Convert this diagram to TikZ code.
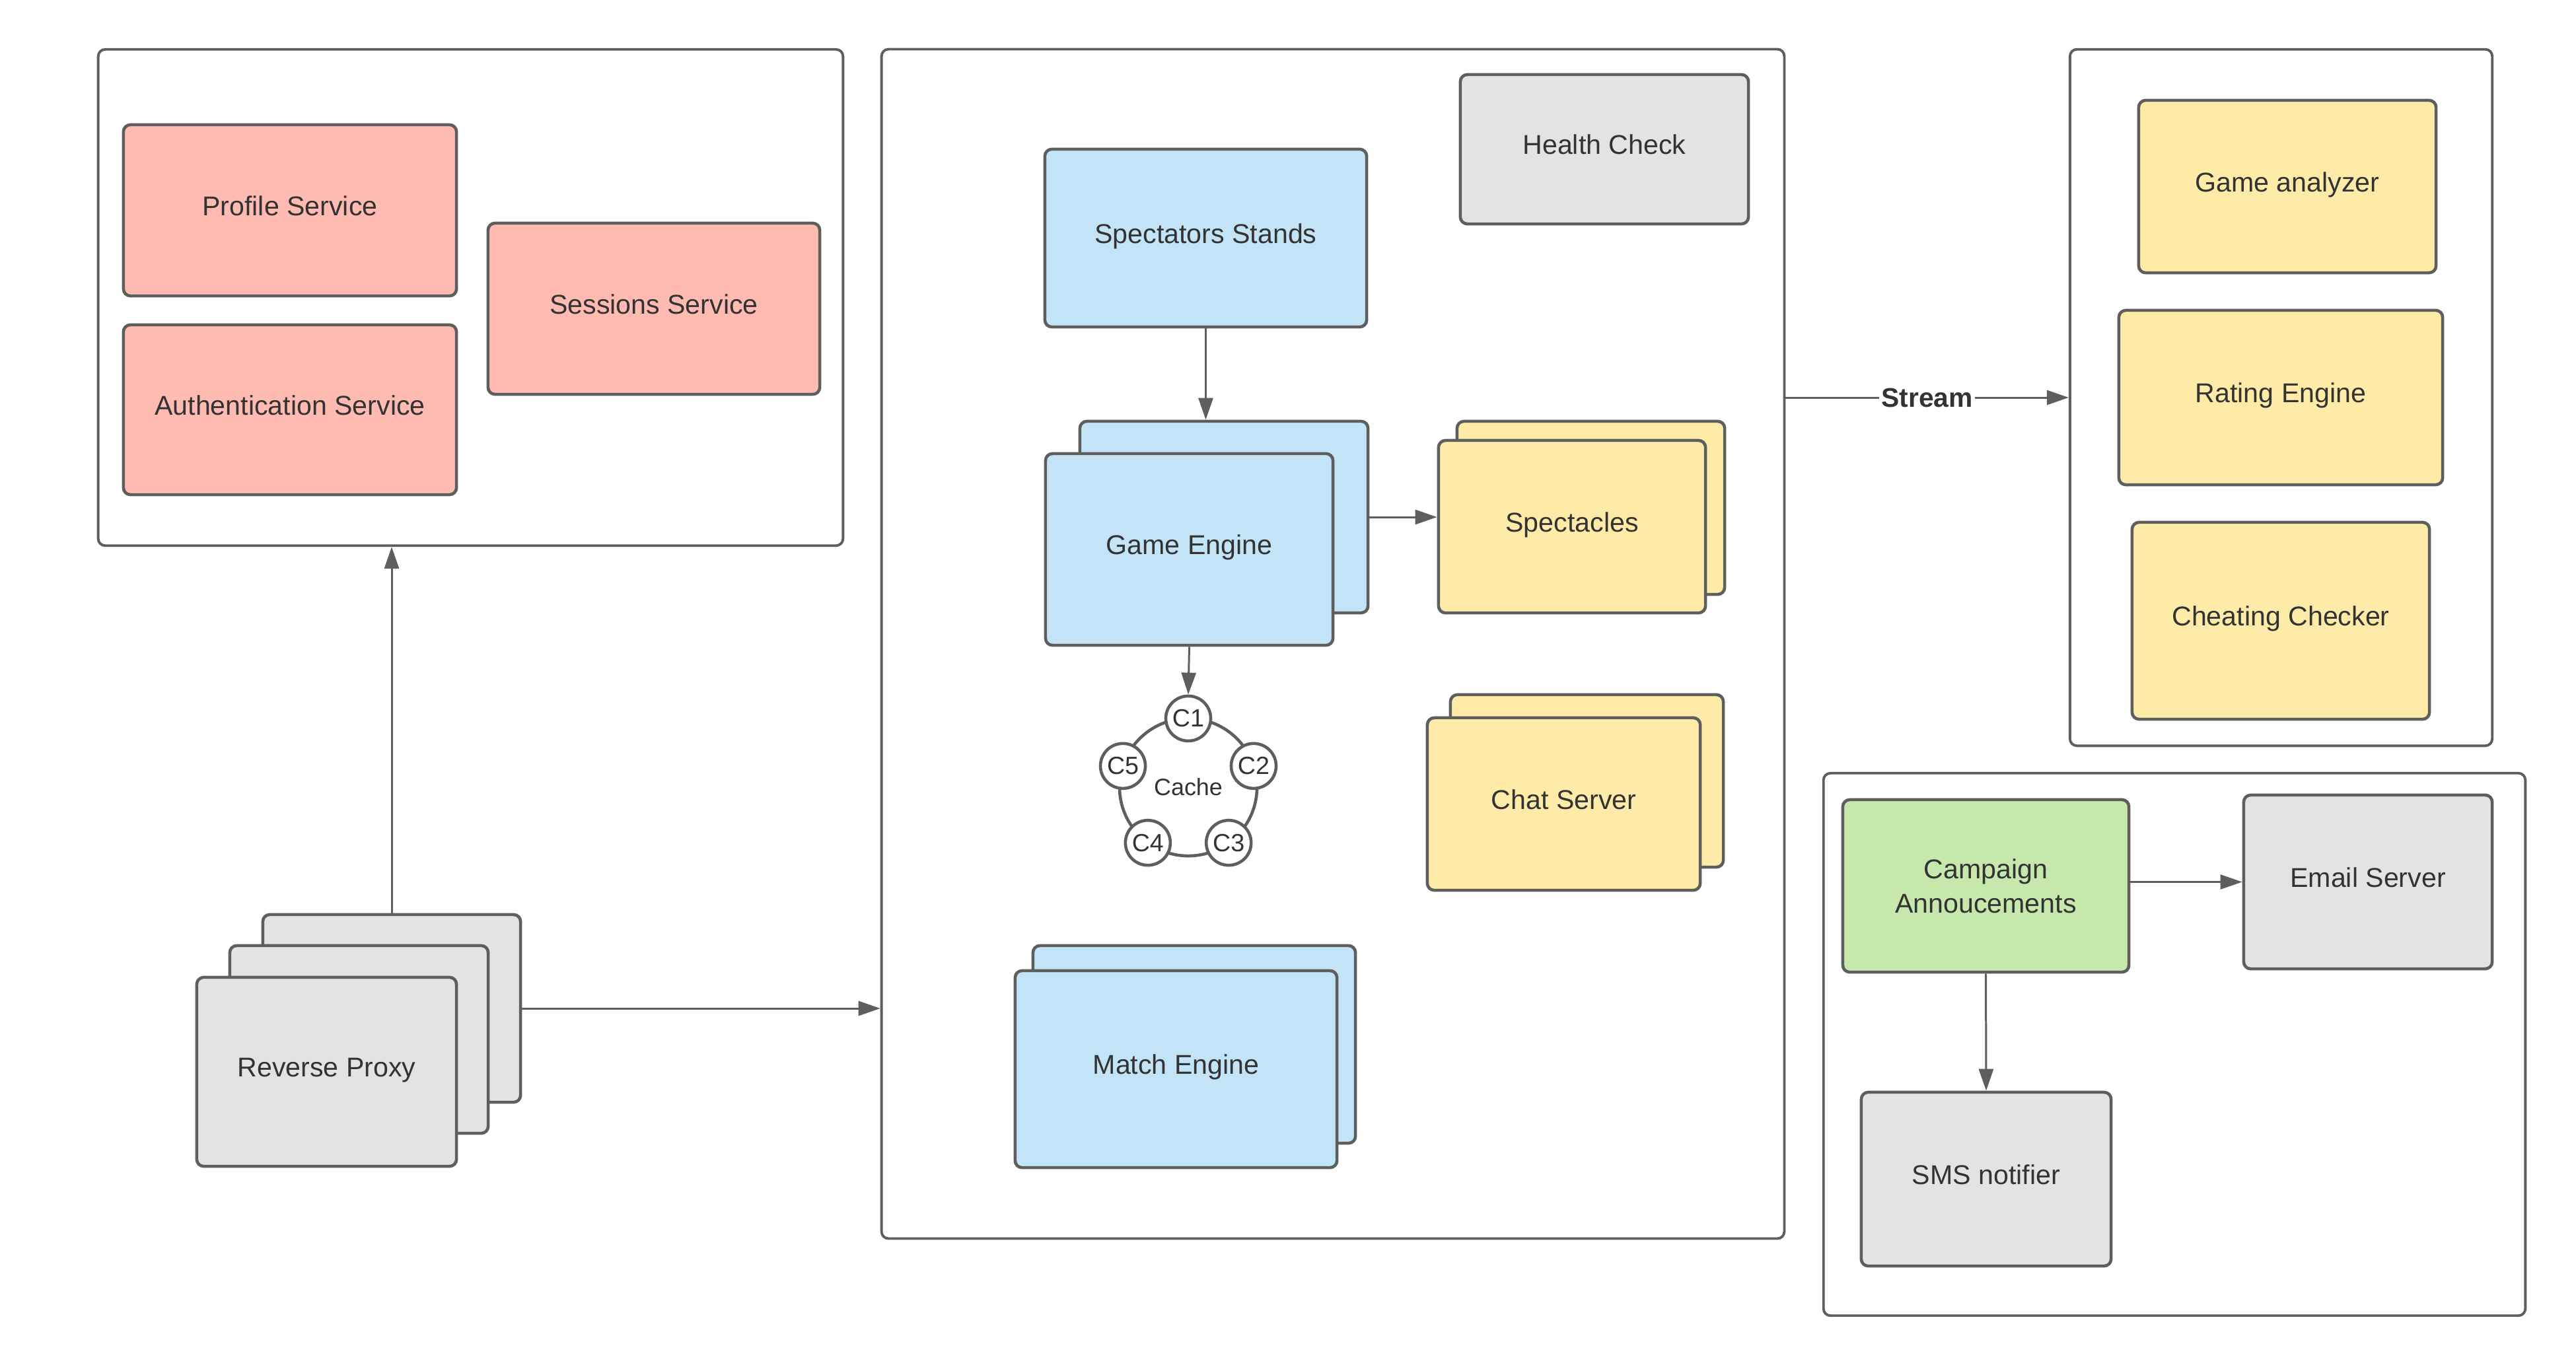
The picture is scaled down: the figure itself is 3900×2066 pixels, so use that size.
\documentclass[tikz,border=0pt]{standalone}
\usepackage{fontspec}
\setmainfont{Liberation Sans}
\usetikzlibrary{arrows.meta}
\definecolor{edge}{HTML}{5E5E5E}
\definecolor{ink}{HTML}{333333}
\definecolor{pinkfill}{HTML}{FFBBB1}
\definecolor{bluefill}{HTML}{C2E4F6}
\definecolor{yellowfill}{HTML}{FFEBA8}
\definecolor{greenfill}{HTML}{C7E8AC}
\definecolor{greyfill}{HTML}{E3E3E3}
\tikzset{
	svc/.style={draw=edge, line width=1.3pt, rounded corners=3pt, text=ink, inner sep=0pt,
		font=\fontsize{11.7}{14.8}\selectfont, align=center, text height=0.75em, text depth=0.32em},
	group/.style={draw=edge, line width=1.1pt, rounded corners=3pt, inner sep=0pt},
	shard/.style={draw=edge, line width=1.3pt, circle, fill=white, text=ink, inner sep=0pt,
		minimum size=0.68cm, font=\fontsize{10.7}{12}\selectfont},
	link/.style={draw=edge, line width=0.85pt, -{Triangle[length=0.33cm,width=0.22cm]}},
}
\begin{document}
\begin{tikzpicture}[x=0.01cm, y=-0.01cm]
		\useasboundingbox (0,0) rectangle (3900,2066);
		%%% containers
		\node[group, minimum width=11.27cm, minimum height=7.51cm] (users) at (712.5,450.5) {};
		\node[group, minimum width=13.66cm, minimum height=18cm] (core) at (2018,975) {};
		\node[group, minimum width=6.39cm, minimum height=10.54cm] (analytics) at (3453.5,602) {};
		\node[group, minimum width=10.62cm, minimum height=8.21cm] (notify) at (3292,1581.5) {};
		%%% user services
		\node[svc, fill=pinkfill, minimum width=5.04cm, minimum height=2.59cm] (profile) at (439,318.5) {Profile Service};
		\node[svc, fill=pinkfill, minimum width=5.04cm, minimum height=2.57cm] (auth) at (439,620.5) {Authentication Service};
		\node[svc, fill=pinkfill, minimum width=5.02cm, minimum height=2.59cm] (sessions) at (990,467.5) {Sessions Service};
		%%% reverse proxy
		\node[svc, fill=greyfill, minimum width=3.9cm, minimum height=2.84cm] (proxyc) at (593,1527) {};
		\node[svc, fill=greyfill, minimum width=3.91cm, minimum height=2.84cm] (proxyb) at (543.5,1574) {};
		\node[svc, fill=greyfill, minimum width=3.93cm, minimum height=2.86cm] (proxya) at (494.5,1623) {Reverse Proxy};
		%%% core
		\node[svc, fill=greyfill, minimum width=4.36cm, minimum height=2.26cm] (health) at (2429,226) {Health Check};
		\node[svc, fill=bluefill, minimum width=4.87cm, minimum height=2.69cm] (stands) at (1825.5,360.5) {Spectators Stands};
		\node[svc, fill=bluefill, minimum width=4.36cm, minimum height=2.9cm] (engineb) at (1853,783) {};
		\node[svc, fill=bluefill, minimum width=4.35cm, minimum height=2.9cm] (enginea) at (1800.5,832) {Game Engine};
		\node[svc, fill=yellowfill, minimum width=4.05cm, minimum height=2.62cm] (spectb) at (2408.5,769) {};
		\node[svc, fill=yellowfill, minimum width=4.04cm, minimum height=2.61cm] (specta) at (2380,797.5) {Spectacles};
		\node[svc, fill=yellowfill, minimum width=4.13cm, minimum height=2.61cm] (chatb) at (2402.5,1182.5) {};
		\node[svc, fill=yellowfill, minimum width=4.13cm, minimum height=2.61cm] (chata) at (2367.5,1217.5) {Chat Server};
		\node[svc, fill=bluefill, minimum width=4.88cm, minimum height=2.99cm] (matchb) at (1808,1581.5) {};
		\node[svc, fill=bluefill, minimum width=4.87cm, minimum height=2.98cm] (matcha) at (1780.5,1619) {Match Engine};
		%%% cache ring
		\node[circle, draw=edge, line width=1.3pt, minimum size=2.08cm, text=ink,
			font=\fontsize{10.2}{12}\selectfont] (cache) at (1799,1192) {Cache};
		\foreach \i/\a in {1/90, 2/18, 3/-54, 4/-126, 5/162}
			\node[shard] (c\i) at (cache.center) [shift={(\a:1.04cm)}] {C\i};
		%%% analytics
		\node[svc, fill=yellowfill, minimum width=4.5cm, minimum height=2.61cm] (analyzer) at (3463,282.5) {Game analyzer};
		\node[svc, fill=yellowfill, minimum width=4.9cm, minimum height=2.64cm] (rating) at (3453,602) {Rating Engine};
		\node[svc, fill=yellowfill, minimum width=4.5cm, minimum height=2.98cm] (cheat) at (3453,940) {Cheating Checker};
		%%% notifications
		\node[svc, fill=greenfill, minimum width=4.33cm, minimum height=2.61cm, text height={}, text depth={}]
			(campaign) at (3006.5,1341.5) {Campaign\\Annoucements};
		\node[svc, fill=greyfill, minimum width=3.76cm, minimum height=2.63cm] (email) at (3585,1335.5) {Email Server};
		\node[svc, fill=greyfill, minimum width=3.78cm, minimum height=2.63cm] (sms) at (3007,1785.5) {SMS notifier};
		%%% arrows
		\draw[link] (proxyc.north) -- (proxyc.north |- users.south);
		\draw[link] (proxyc.east) -- (proxyc.east -| core.west);
		\draw[link] (stands.south) -- (stands.south |- engineb.north);
		\draw[link] (engineb.east) -- (engineb.east -| specta.west);
		\draw[link] (enginea.south) -- (c1.north);
		\draw[link] (core.east |- analytics.west) -- node[fill=white, inner sep=1pt, text=ink,
			font=\fontsize{11.6}{14}\selectfont\bfseries] {Stream} (analytics.west);
		\draw[link] (campaign.east |- email.west) -- (email.west);
		\draw[link] (campaign.south) -- (sms.north);
	\end{tikzpicture}
\end{document}
